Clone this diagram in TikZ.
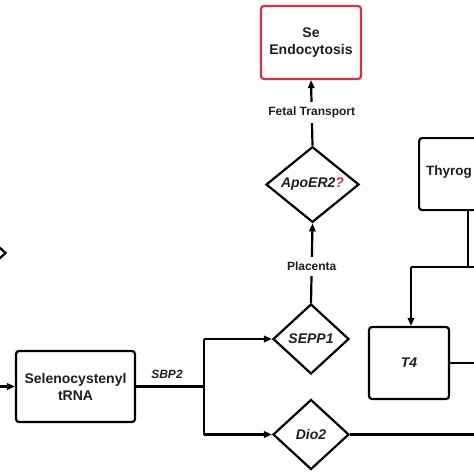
\documentclass[tikz,border=0pt]{standalone}
\usepackage{fontspec}
\setmainfont{Liberation Sans}
\usetikzlibrary{shapes.geometric,arrows.meta}
\definecolor{redbox}{RGB}{214,48,70}
\definecolor{ink}{RGB}{30,30,30}
\begin{document}
\begin{tikzpicture}[x=1pt,y=-1pt,
  line width=2.2pt,
  arr/.style={-{Triangle[length=8pt,width=6.5pt]}},
  boxnode/.style={draw, rounded corners=3pt, inner sep=0pt, align=center,
    font=\fontsize{14}{17}\selectfont\bfseries, text=ink},
  dia/.style={draw, diamond, inner sep=0pt,
    font=\fontsize{14}{17}\selectfont\bfseries\itshape, text=ink},
  lab/.style={fill=white, inner xsep=2pt, inner ysep=5pt,
    font=\fontsize{12}{14}\selectfont\bfseries, text=ink}]
\path[use as bounding box, fill=white] (0,0) rectangle (474,474);
\clip (0,0) rectangle (474,474);

% nodes
\node[boxnode, draw=redbox, minimum width=100pt, minimum height=73pt] (se) at (311,42.5) {Se\\Endocytosis};
\node[dia, minimum width=93pt, minimum height=69pt] (apo) at (312.5,184.5) {ApoER2\textcolor{redbox}{?}};
\node[dia, minimum width=76pt, minimum height=70pt] (sepp) at (311,339) {SEPP1};
\node[dia, minimum width=76pt, minimum height=70pt] (dio) at (311,434.5) {Dio2};
\node[dia, minimum width=76pt, minimum height=70pt] (leftdia) at (-32,253) {};
\node[boxnode, minimum width=119pt, minimum height=71pt] (sel) at (75.5,386.5) {Selenocystenyl\\tRNA};
\node[boxnode, minimum width=80pt, minimum height=72pt,
  font=\fontsize{14}{17}\selectfont\bfseries\itshape] (t4) at (409,363) {T4};
\node[boxnode, minimum width=80pt, minimum height=72pt, anchor=north west] (thy) at (418,137) {};
\node[anchor=east, inner sep=0pt, font=\fontsize{13.5}{16}\selectfont\bfseries, text=ink] (thytext) at (473,172) {Thyrog};
\node[inner sep=0pt, font=\fontsize{12}{14}\selectfont\bfseries\itshape, text=ink] (sbp) at (167,374) {SBP2};

% coordinates
\coordinate (in) at (-5,386.5);
\coordinate (j) at (204,386.5);
\coordinate (dioend) at (480,434.5);
\coordinate (t4end) at (480,363);
\coordinate (k) at (468,267);
\coordinate (kl) at (411,267);
\coordinate (kr) at (480,267);

% connectors
\draw[arr] (apo.north) -- node[lab]{Fetal Transport} (se.south);
\draw[arr] (sepp.north) -- node[lab, pos=0.46]{Placenta} (apo.south);
\draw[arr] (in) -- (sel.west);
\draw (sel.east) -- (j);
\draw (j |- sepp.west) -- (j |- dio.west);
\draw[arr] (j |- sepp.west) -- (sepp.west);
\draw[arr] (j |- dio.west) -- (dio.west);
\draw (dio.east) -- (dioend);
\draw (t4.east) -- (t4end);
\draw (k |- thy.south) -- (k);
\draw (kr) -- (kl);
\draw[arr] (kl) -- (kl |- t4.north);
\end{tikzpicture}
\end{document}
